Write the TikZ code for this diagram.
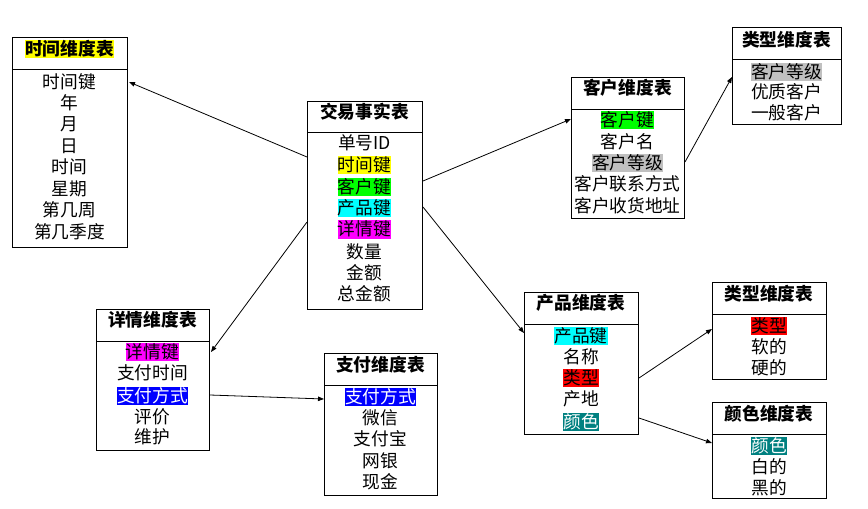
\documentclass[tikz,border=0pt]{standalone}
\usepackage{fontspec}
\setmainfont{Noto Sans CJK SC}
\usetikzlibrary{calc,arrows.meta}
\definecolor{hlyellow}{RGB}{255,255,0}
\definecolor{hlgreen}{RGB}{0,255,0}
\definecolor{hlcyan}{RGB}{0,255,255}
\definecolor{hlmagenta}{RGB}{255,0,255}
\definecolor{hlgray}{RGB}{192,192,192}
\definecolor{hlblue}{RGB}{0,0,255}
\definecolor{hlred}{RGB}{255,0,0}
\definecolor{hlteal}{RGB}{0,128,128}
\tikzset{
  tbl/.style={draw, line width=1pt, anchor=north west, inner sep=0pt},
  ttl/.style={font=\bfseries\fontsize{17.7}{17.7}\selectfont, inner xsep=0.3pt, inner ysep=0.3pt, text height=15pt, text depth=2.7pt},
  row/.style={font=\fontsize{17.7}{17.7}\selectfont, inner xsep=0.3pt, inner ysep=0.3pt, text height=15pt, text depth=2.7pt},
  hl/.style={row, fill=#1},
  hlw/.style={row, fill=#1, text=white},
  divider/.style={line width=1pt},
  conn/.style={-{Triangle[length=6pt,width=4.5pt]}, line width=0.8pt}
}
\begin{document}
\begin{tikzpicture}[x=1pt,y=-1pt]
\useasboundingbox (0,0) rectangle (868,509);

% 时间维度表
\node[tbl, minimum width=115pt, minimum height=210pt] (time) at (12,37) {};
\draw[divider] (12,69) -- (127,69);
\node[ttl, fill=hlyellow] (timeT) at (69.5,49) {时间维度表};
\node[row] (time1) at (69.5,82) {时间键};
\node[row] (time2) at (69.5,103) {年};
\node[row] (time3) at (69.5,124.5) {月};
\node[row] (time4) at (69.5,146) {日};
\node[row] (time5) at (69.5,167) {时间};
\node[row] (time6) at (69.5,189) {星期};
\node[row] (time7) at (69.5,210) {第几周};
\node[row] (time8) at (69.5,232) {第几季度};

% 交易事实表
\node[tbl, minimum width=115pt, minimum height=208pt] (fact) at (307,101) {};
\draw[divider] (307,132) -- (422,132);
\node[ttl] (factT) at (364.5,112) {交易事实表};
\node[row] (fact1) at (364.5,143.5) {单号ID};
\node[hl=hlyellow] (fact2) at (364.5,165) {时间键};
\node[hl=hlgreen] (fact3) at (364.5,187) {客户键};
\node[hl=hlcyan] (fact4) at (364.5,208) {产品键};
\node[hl=hlmagenta] (fact5) at (364.5,229.5) {详情键};
\node[row] (fact6) at (364.5,252) {数量};
\node[row] (fact7) at (364.5,273) {金额};
\node[row] (fact8) at (364.5,294) {总金额};

% 客户维度表
\node[tbl, minimum width=113pt, minimum height=141pt] (cust) at (571,77) {};
\draw[divider] (571,109) -- (684,109);
\node[ttl] (custT) at (627.5,88) {客户维度表};
\node[hl=hlgreen] (cust1) at (627.5,120) {客户键};
\node[row] (cust2) at (627.5,142) {客户名};
\node[hl=hlgray] (cust3) at (627.5,163) {客户等级};
\node[row] (cust4) at (627.5,184.5) {客户联系方式};
\node[row] (cust5) at (627.5,206) {客户收货地址};

% 类型维度表 (客户)
\node[tbl, minimum width=109pt, minimum height=97pt] (typeA) at (732,27) {};
\draw[divider] (732,59) -- (841,59);
\node[ttl] (typeAT) at (786.5,40) {类型维度表};
\node[hl=hlgray] (typeA1) at (786.5,72) {客户等级};
\node[row] (typeA2) at (786.5,92) {优质客户};
\node[row] (typeA3) at (786.5,113) {一般客户};

% 详情维度表
\node[tbl, minimum width=113pt, minimum height=141pt] (detail) at (96,309) {};
\draw[divider] (96,341) -- (209,341);
\node[ttl] (detailT) at (152.5,320) {详情维度表};
\node[hl=hlmagenta] (detail1) at (152.5,352) {详情键};
\node[row] (detail2) at (152.5,373) {支付时间};
\node[hlw=hlblue] (detail3) at (152.5,396) {支付方式};
\node[row] (detail4) at (152.5,417) {评价};
\node[row] (detail5) at (152.5,437) {维护};

% 支付维度表
\node[tbl, minimum width=113pt, minimum height=142pt] (pay) at (324,353) {};
\draw[divider] (324,385) -- (437,385);
\node[ttl] (payT) at (380.5,365) {支付维度表};
\node[hlw=hlblue] (pay1) at (380.5,397) {支付方式};
\node[row] (pay2) at (380.5,418) {微信};
\node[row] (pay3) at (380.5,439) {支付宝};
\node[row] (pay4) at (380.5,461) {网银};
\node[row] (pay5) at (380.5,482) {现金};

% 产品维度表
\node[tbl, minimum width=114pt, minimum height=142pt] (prod) at (524,292) {};
\draw[divider] (524,324) -- (638,324);
\node[ttl] (prodT) at (581,303) {产品维度表};
\node[hl=hlcyan] (prod1) at (581,336) {产品键};
\node[row] (prod2) at (581,357) {名称};
\node[hl=hlred] (prod3) at (581,378) {类型};
\node[row] (prod4) at (581,399) {产地};
\node[hlw=hlteal] (prod5) at (581,422) {颜色};

% 类型维度表 (产品)
\node[tbl, minimum width=114pt, minimum height=97pt] (typeB) at (712,282) {};
\draw[divider] (712,314) -- (826,314);
\node[ttl] (typeBT) at (769,294) {类型维度表};
\node[hl=hlred] (typeB1) at (769,326) {类型};
\node[row] (typeB2) at (769,347) {软的};
\node[row] (typeB3) at (769,368) {硬的};

% 颜色维度表
\node[tbl, minimum width=114pt, minimum height=96pt] (color) at (712,402) {};
\draw[divider] (712,434) -- (826,434);
\node[ttl] (colorT) at (769,414) {颜色维度表};
\node[hlw=hlteal] (color1) at (769,446) {颜色};
\node[row] (color2) at (769,467) {白的};
\node[row] (color3) at (769,488) {黑的};

% connectors
\draw[conn] ($(fact.north west)+(0,56)$) -- ($(time.north east)+(1,45)$);
\draw[conn] ($(fact.north east)+(0,80)$) -- ($(cust.north west)+(0,42)$);
\draw[conn] ($(fact.north east)+(0,106)$) -- ($(prod.north west)+(0,41)$);
\draw[conn] ($(fact.north west)+(0,121)$) -- ($(detail.north east)+(1,43)$);
\draw[conn] ($(cust.north east)+(0,85)$) -- ($(typeA.north west)+(0,50)$);
\draw[conn] ($(detail.north east)+(0,86)$) -- ($(pay.north west)+(0,46)$);
\draw[conn] ($(prod.north east)+(0,86)$) -- ($(typeB.north west)+(0,47)$);
\draw[conn] ($(prod.north east)+(0,126)$) -- ($(color.north west)+(0,41)$);
\end{tikzpicture}
\end{document}
